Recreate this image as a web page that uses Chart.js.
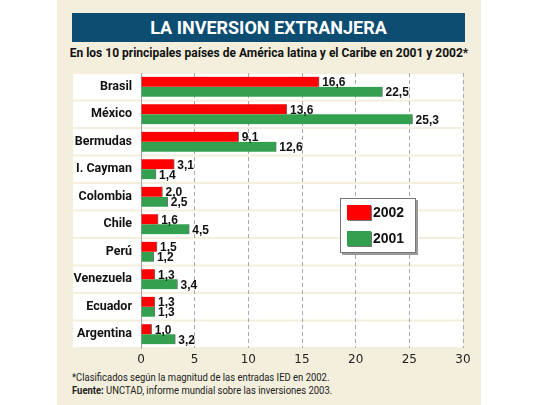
<!DOCTYPE html>
<html>
<head>
<meta charset="utf-8">
<script src="https://cdn.jsdelivr.net/npm/chart.js@4.4.0/dist/chart.umd.min.js"></script>
<style>
  body { margin: 0; background: #fff; width: 540px; height: 405px; overflow: hidden; }
  #panel { position: absolute; left: 57px; top: 0; width: 424px; height: 405px; background: #f3efdc; }
  #title { position: absolute; left: 15px; top: 13px; width: 393px; height: 29px; background: #0d4d72;
           color: #fff; font: bold 18px Roboto, sans-serif;
           text-align: center; line-height: 30px; }
  #subtitle { position: absolute; left: 0; top: 46px; width: 424px; text-align: center; color: #111;
              white-space: nowrap; font: bold 12px Roboto, sans-serif; }
  #wrap { position: absolute; left: 0; top: 66px; width: 424px; height: 300px; }
  #notes { position: absolute; left: 15px; top: 371px; color: #222; line-height: 10px; white-space: nowrap;
           font: 10.5px Roboto, sans-serif; transform: scaleX(0.9); transform-origin: left top; }
</style>
</head>
<body>
<div id="panel">
  <div id="title">LA INVERSION EXTRANJERA</div>
  <div id="subtitle">En los 10 principales países de América latina y el Caribe en 2001 y 2002*</div>
  <div id="wrap"><canvas id="chart"></canvas></div>
  <div id="notes">
    *Clasificados según la magnitud de las entradas IED en 2002.<br>
    <b>Fuente:</b> UNCTAD, informe mundial sobre las inversiones 2003.
  </div>
</div>
<script>
// Chart data
const categories = ['Brasil', 'México', 'Bermudas', 'I. Cayman', 'Colombia',
                    'Chile', 'Perú', 'Venezuela', 'Ecuador', 'Argentina'];
const seriesNames = ['2002', '2001'];
const values2002 = [16.6, 13.6, 9.1, 3.1, 2.0, 1.6, 1.5, 1.3, 1.3, 1.0];
const values2001 = [22.5, 25.3, 12.6, 1.4, 2.5, 4.5, 1.2, 3.4, 1.3, 3.2];
const xMin = 0;
const xMax = 30;
const xStep = 5;

const LABELS = 'Roboto, sans-serif';
const SANS = "'Liberation Sans', sans-serif";
const TICKS = "'DejaVu Sans', sans-serif";
const RED = '#fe0000';
const GREEN = '#33a04f';

/**
 * White row bands behind each category (beige gaps between them)
 */
const rowBands = {
    id: 'rowBands',
    beforeDraw(chart) {
        const { ctx, chartArea, scales: { y } } = chart;
        const half = y.height / categories.length / 2;
        ctx.save();
        ctx.fillStyle = '#ffffff';
        categories.forEach((c, i) => {
            const cy = y.getPixelForValue(i);
            ctx.fillRect(y.left, cy - half + 1, chartArea.right - y.left, half * 2 - 2);
        });
        ctx.restore();
    }
};

/**
 * Value labels at the end of each bar
 */
const valueLabels = {
    id: 'valueLabels',
    afterDatasetsDraw(chart) {
        const { ctx } = chart;
        ctx.save();
        ctx.font = 'bold 12px ' + SANS;
        ctx.fillStyle = '#111';
        ctx.textBaseline = 'middle';
        ctx.textAlign = 'left';
        chart.data.datasets.forEach((ds, di) => {
            chart.getDatasetMeta(di).data.forEach((bar, i) => {
                const txt = ds.data[i].toFixed(1).replace('.', ',');
                ctx.fillText(txt, bar.x + 3, bar.y + 1);
            });
        });
        ctx.restore();
    }
};

/**
 * Boxed legend inside the plot
 */
const boxLegend = {
    id: 'boxLegend',
    afterDraw(chart) {
        const { ctx, chartArea } = chart;
        const x = chartArea.left + 199;
        const y = chartArea.top + 125;
        const w = 76, h = 55;
        ctx.save();
        ctx.fillStyle = '#9a9a9a';
        ctx.fillRect(x + 2, y + 2, w, h);
        ctx.fillStyle = '#fff';
        ctx.fillRect(x, y, w, h);
        ctx.strokeStyle = '#777';
        ctx.lineWidth = 1;
        ctx.strokeRect(x + 0.5, y + 0.5, w - 1, h - 1);
        ctx.font = 'bold 14px ' + SANS;
        ctx.textBaseline = 'middle';
        chart.data.datasets.forEach((ds, i) => {
            const sy = y + 7 + i * 26;
            ctx.fillStyle = '#777';
            ctx.fillRect(x + 8, sy + 1, 24, 15);
            ctx.fillStyle = ds.backgroundColor;
            ctx.fillRect(x + 7, sy, 24, 15);
            ctx.fillStyle = '#111';
            ctx.fillText(ds.label, x + 33, sy + 8);
        });
        ctx.restore();
    }
};

const ctx = document.getElementById('chart').getContext('2d');
new Chart(ctx, {
    type: 'bar',
    data: {
        labels: categories,
        datasets: [
            { label: seriesNames[0], data: values2002, backgroundColor: RED },
            { label: seriesNames[1], data: values2001, backgroundColor: GREEN }
        ].map(ds => ({
            ...ds,
            borderColor: '#707070',
            borderWidth: { top: 0, bottom: 0, left: 0, right: 1 },
            borderSkipped: false,
            barThickness: 10,
            categoryPercentage: 0.8
        }))
    },
    options: {
        indexAxis: 'y',
        responsive: true,
        maintainAspectRatio: false,
        animation: false,
        layout: { padding: { left: 16, right: 18, top: 7, bottom: 0 } },
        plugins: {
            legend: { display: false },
            tooltip: { enabled: false }
        },
        scales: {
            x: {
                min: xMin,
                max: xMax,
                ticks: { stepSize: xStep, padding: 5, color: '#222', font: { family: TICKS, size: 12 } },
                grid: {
                    drawTicks: false,
                    color: c => (c.tick && c.tick.value === 0) ? 'rgba(0,0,0,0)' : '#a9a9a9'
                },
                border: { display: false, dash: [4, 3] },
                afterFit: scale => { scale.height = 18; }
            },
            y: {
                ticks: { padding: 9, color: '#111', font: { family: LABELS, size: 12.5, weight: 'bold' } },
                grid: { display: false, drawTicks: false },
                border: { display: true, color: '#a0a0a0', width: 1 },
                afterFit: scale => {
                    scale.width = 68;
                    scale.paddingTop = 0;
                    scale.paddingBottom = 0;
                }
            }
        }
    },
    plugins: [rowBands, valueLabels, boxLegend]
});
</script>
</body>
</html>
